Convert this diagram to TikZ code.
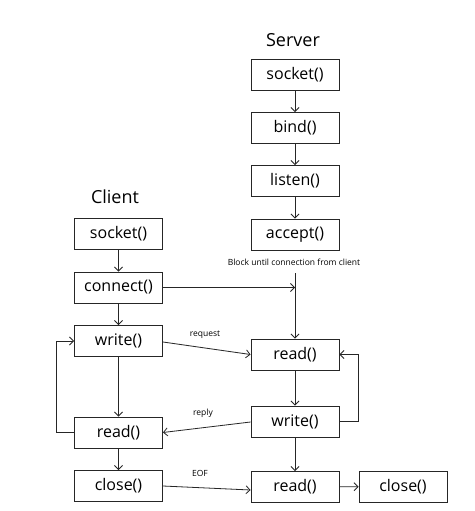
\documentclass[tikz,border=0pt]{standalone}
\usepackage{fontspec}
\setmainfont{Open Sans}
\usetikzlibrary{arrows.meta}
\begin{document}
\begin{tikzpicture}[x=1pt,y=-1pt,
  fn/.style={draw=black!85,line width=0.9pt,minimum width=88pt,minimum height=31pt,inner sep=0pt,font=\fontsize{16}{18}\selectfont},
  lbl/.style={font=\fontsize{18}{20}\selectfont},
  small/.style={font=\fontsize{8.5}{10}\selectfont},
  arr/.style={draw=black!85,line width=0.8pt,-{Straight Barb[length=4pt,width=8pt]}},
  ln/.style={draw=black!85,line width=0.8pt}]
\useasboundingbox (0,0) rectangle (474,511);
\fill[white] (0,0) rectangle (474,511);
% labels
\node[lbl] (srv) at (293,40) {Server};
\node[lbl] (cli) at (115,197) {Client};
% server column
\node[fn] (ssock) at (295,75) {socket()};
\node[fn] (sbind) at (295,128) {bind()};
\node[fn] (slist) at (295,181) {listen()};
\node[fn] (sacc) at (295,234.5) {accept()};
\node[small] (block) at (294,262) {Block until connection from client};
\node[fn] (sread) at (295,354.5) {read()};
\node[fn] (swrite) at (295,421.5) {write()};
\node[fn] (sread2) at (295,487) {read()};
\node[fn] (sclose) at (403,486.5) {close()};
% client column
\node[fn] (csock) at (118.5,234) {socket()};
\node[fn] (cconn) at (118.5,287.5) {connect()};
\node[fn] (cwrite) at (118.5,341) {write()};
\node[fn] (cread) at (118.5,432.5) {read()};
\node[fn] (cclose) at (118.5,486) {close()};
% labels on arrows
\node[small] (req) at (205,335) {request};
\node[small] (rep) at (203,413) {reply};
\node[small] (eof) at (200,473) {EOF};
% coordinates
\coordinate (cj) at (295,287.5);
\coordinate (vtop) at (295,273);
\coordinate (ll) at (56,432.5);
\coordinate (lu) at (56,341);
\coordinate (rl) at (358,421.5);
\coordinate (ru) at (358,354.5);
% server arrows
\draw[arr] (ssock) -- (sbind);
\draw[arr] (sbind) -- (slist);
\draw[arr] (slist) -- (sacc);
\draw[arr] (vtop) -- (sread);
\draw[arr] (sread) -- (swrite);
\draw[arr] (swrite) -- (sread2);
\draw[arr] (sread2) -- (sclose);
\draw[arr] (swrite.east) -- (rl) -- (ru) -- (sread.east);
% client arrows
\draw[arr] (csock) -- (cconn);
\draw[arr] (cconn) -- (cwrite);
\draw[arr] (cwrite) -- (cread);
\draw[arr] (cread) -- (cclose);
\draw[arr] (cread.west) -- (ll) -- (lu) -- (cwrite.west);
\draw[arr] (cconn.east) -- (cj);
% cross arrows
\draw[arr] ([yshift=-1pt]cwrite.east) -- (sread.west);
\draw[arr] ([yshift=-0.5pt]swrite.west) -- (cread.east);
\draw[arr] (cclose.east) -- ([yshift=-3pt]sread2.west);
\end{tikzpicture}
\end{document}
